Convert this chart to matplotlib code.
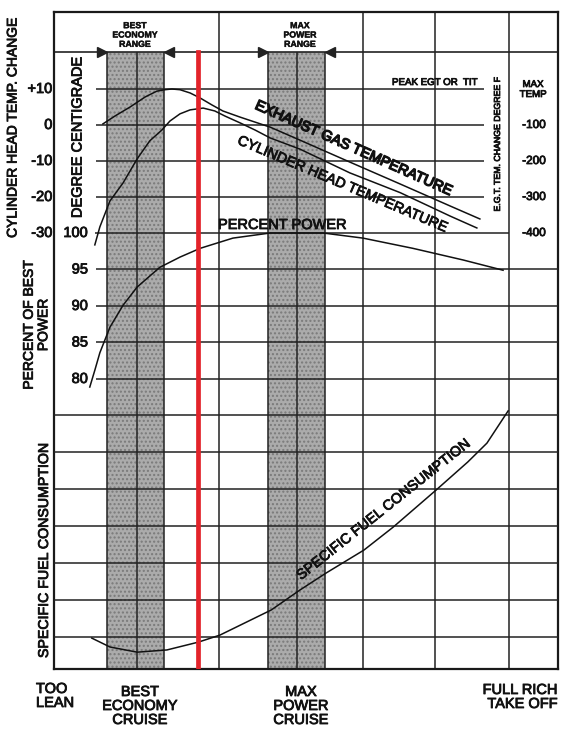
import matplotlib.pyplot as plt
import matplotlib.patheffects as pe

plt.rcParams['font.family'] = ['Liberation Sans', 'DejaVu Sans']

# mixture position across the chart: 0 = too lean (left frame), 100 = full rich (right frame)
econ_range = (10.5, 21.8)
power_range = (42.5, 53.8)
band_mid = [16.5, 48.2]
red_x = 28.6
grid_x = [32.7, 61.3, 75.6, 90.3]

cht_ticks = [10, 0, -10, -20, -30]
cht_labels = ['+10', '0', '-10', '-20', '-30']
egt_ticks = [-100, -200, -300, -400]
power_ticks = [100, 95, 90, 85, 80]
sfc_levels = [1, 2, 3, 4, 5, 6, 7]

# exhaust gas temperature change, deg F
egt_x = [9.7, 12.1, 15.1, 18.1, 20.4, 22.0, 23.4, 25.0, 27.0, 29.0, 31.3, 33.5,
         36.9, 39.9, 42.9, 48.8, 58.7, 68.7, 78.6, 84.5]
egt_f = [-97, -75, -50, -22, -6, -2, 0, -2, -11, -25, -44, -61,
         -78, -92, -106, -142, -203, -264, -325, -361]

# cylinder head temperature change, deg C
cht_x = [8.1, 9.1, 11.1, 13.7, 16.5, 19.0, 21.4, 23.0, 25.0, 27.0, 29.6, 31.9,
         33.9, 36.9, 39.9, 42.9, 48.8, 58.7, 68.7, 78.6, 83.9]
cht_c = [-33.3, -28.3, -21.1, -16.1, -9.4, -4.4, -1.4, 1.1, 3.1, 4.2, 4.7, 3.9,
         2.5, 0.6, -1.4, -3.6, -6.7, -13.3, -18.8, -25.3, -28.6]

# percent of best power
pwr_x = [7.1, 8.1, 9.1, 11.1, 13.7, 16.5, 21.0, 25.0, 29.0, 35.5, 42.9, 48.8,
         53.4, 61.3, 71.2, 81.2, 89.1]
pwr_p = [78.9, 81.2, 83.6, 87.1, 90.1, 92.6, 95.3, 96.7, 97.9, 99.3, 100, 100,
         100, 99.3, 97.9, 96.3, 94.9]

# specific fuel consumption, grid divisions
sfc_x = [7.5, 11.1, 16.5, 22.4, 28.6, 32.9, 43.1, 48.8, 54.0, 61.5, 67.3, 75.8,
         82.1, 85.9, 90.1]
sfc_v = [0.97, 0.73, 0.59, 0.65, 0.86, 1.05, 1.73, 2.27, 2.73, 3.35, 3.97, 4.97,
         5.73, 6.24, 7.11]

W, H = 584, 732
L, R, T, B = 54, 558, 12, 669          # frame in pixels
HEADER = 52                             # header divider in pixels
rect = [L / W, 1 - B / H, (R - L) / W, (B - T) / H]

fig = plt.figure(figsize=(W / 100, H / 100), dpi=100)

tc = '#111111'
heavy = [pe.withStroke(linewidth=0.6, foreground=tc)]


def fx(px):
    return px / W


def fy(py):
    return 1 - py / H


def xu(px):
    return (px - L) / (R - L) * 100


def label(x, y, s, stroke=None, **kw):
    kw.setdefault('color', tc)
    kw.setdefault('ha', 'center')
    kw.setdefault('va', 'center')
    fx_ = heavy if stroke is None else [pe.withStroke(linewidth=stroke, foreground=tc)]
    fig.text(fx(x), fy(y), s, path_effects=fx_, **kw)


ax = fig.add_axes(rect)
ax.set_xlim(0, 100)
ax.set_ylim(B, T)
ax.set_xticks([])
ax.set_yticks([])
for s in ax.spines.values():
    s.set_linewidth(1.6)
    s.set_color('#1a1a1a')


def scale_axes(v1, p1, v2, p2):
    a = fig.add_axes(rect, sharex=ax, facecolor='none')
    k = (p2 - p1) / (v2 - v1)
    a.set_ylim(v1 + (B - p1) / k, v1 + (T - p1) / k)
    a.axis('off')
    return a


ax_c = scale_axes(10, 89, -30, 233)
ax_f = scale_axes(0, 89, -400, 233)
ax_p = scale_axes(100, 233, 80, 379)
ax_s = scale_axes(1, 637, 7, 415)

gcol = '#222222'
# shaded ranges
for lo, hi in (econ_range, power_range):
    ax.axvspan(lo, hi, ymin=0, ymax=(B - HEADER) / (B - T), facecolor='#ababab',
               edgecolor='#7a7a7a', hatch='....', linewidth=0, zorder=0)
    for xx in (lo, hi):
        ax.vlines(xx, B, HEADER, color=gcol, lw=1.1, zorder=1)
    # range arrows in header
    ax.plot(lo - 1, HEADER, marker='>', ms=7, color=gcol, zorder=3, clip_on=False)
    ax.plot(hi + 1, HEADER, marker='<', ms=7, color=gcol, zorder=3, clip_on=False)
ax.vlines(band_mid, B, HEADER, color=gcol, lw=1.1, zorder=1)
ax.vlines(grid_x, B, T, color=gcol, lw=1.1, zorder=1)
ax.hlines(HEADER, 0, 100, color=gcol, lw=1.2, zorder=1)

# horizontal grid
ax_c.hlines(cht_ticks[:-1], xu(96), xu(484), color=gcol, lw=1.1)
ax_c.hlines(cht_ticks[-1], xu(95), grid_x[-1], color=gcol, lw=1.1)
ax_p.hlines(power_ticks[1:], xu(96), 100, color=gcol, lw=1.1)
ax_s.hlines(sfc_levels, 0, 100, color=gcol, lw=1.1)

# curves
ax_f.plot(egt_x, egt_f, color='#111111', lw=1.1)
ax_c.plot(cht_x, cht_c, color='#111111', lw=1.1)
ax_p.plot(pwr_x, pwr_p, color='#111111', lw=1.1)
ax_s.plot(sfc_x, sfc_v, color='#111111', lw=1.1)

ax_s.axvline(red_x, ymin=0, ymax=(B - HEADER) / (B - T), color='#e3232a', lw=3.4)

# scale labels
for v, t in zip(cht_ticks, cht_labels):
    ax_c.text(xu(52.5), v, t, ha='right', va='center', fontsize=10.5,
              color=tc, path_effects=heavy, clip_on=False)
for v in power_ticks:
    ax_p.text(xu(88), v, str(v), ha='right', va='center', fontsize=10.5,
              color=tc, path_effects=heavy)
for v in egt_ticks:
    ax_f.text(xu(534), v, str(v), ha='center', va='center', fontsize=8.5,
              color=tc, path_effects=heavy)

label(12.5, 128, 'CYLINDER HEAD TEMP. CHANGE', rotation=90, fontsize=10)
label(77.5, 137, 'DEGREE CENTIGRADE', rotation=90, fontsize=10.5)
label(36, 325, 'PERCENT OF BEST\nPOWER', rotation=90, fontsize=10, linespacing=1.05)
label(44, 551, 'SPECIFIC FUEL CONSUMPTION', rotation=90, fontsize=10.2)

label(135, 35, 'BEST\nECONOMY\nRANGE', stroke=0.3, fontsize=6.3,
      fontweight='bold', linespacing=1.05)
label(300, 35, 'MAX\nPOWER\nRANGE', stroke=0.3, fontsize=6.3,
      fontweight='bold', linespacing=1.05)

label(392, 87, 'PEAK EGT OR  TIT', ha='left', va='bottom', fontsize=7)
label(497.5, 144, 'E.G.T. TEM. CHANGE DEGREE F', rotation=90, fontsize=6.3)
label(533, 89, 'MAX\nTEMP', fontsize=7, linespacing=1.0)

label(353, 148, 'EXHAUST GAS TEMPERATURE', stroke=1.0, rotation=-24,
      rotation_mode='anchor', fontsize=10.4)
label(342, 184, 'CYLINDER HEAD TEMPERATURE', rotation=-23, rotation_mode='anchor',
      fontsize=10.3)
label(218, 229, 'PERCENT POWER', ha='left', va='baseline', fontsize=10.5)
label(383, 510, 'SPECIFIC FUEL CONSUMPTION', rotation=38.5, rotation_mode='anchor',
      fontsize=10.3)

label(36, 696, 'TOO\nLEAN', ha='left', fontsize=10.5, linespacing=1.0)
label(140, 706, 'BEST\nECONOMY\nCRUISE', fontsize=10.5, linespacing=1.0)
label(301, 706, 'MAX\nPOWER\nCRUISE', fontsize=10.5, linespacing=1.0)
label(558, 697, 'FULL RICH\nTAKE OFF', ha='right', fontsize=10.5, linespacing=1.0,
      multialignment='right')

fig.savefig('out.png', dpi=100)
